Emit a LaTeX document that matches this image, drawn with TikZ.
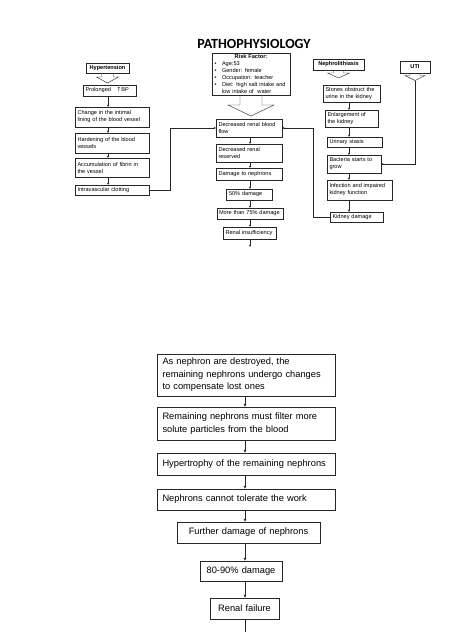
\documentclass[tikz,border=0pt]{standalone}
\usepackage{fontspec}
\setmainfont{Liberation Sans}
\newfontfamily\dvfont{DejaVu Sans}
\newfontfamily\titlefont{Carlito}
\usetikzlibrary{arrows.meta,calc}

% style, pad, name, x1, y1, x2, y2, text
\newcommand{\mkbox}[8]{%
  \pgfmathsetmacro{\mbcx}{(#4+#6)/2}%
  \pgfmathsetmacro{\mbcy}{(#5+#7)/2}%
  \pgfmathsetmacro{\mbw}{#6-#4}%
  \pgfmathsetmacro{\mbh}{#7-#5}%
  \pgfmathsetmacro{\mbtw}{#6-#4-2*#2}%
  \node[#1, inner xsep=#2pt, minimum width=\mbw pt, minimum height=\mbh pt, text width=\mbtw pt] (#3) at (\mbcx,\mbcy) {#8};%
}

\tikzset{
  sm/.style={draw=black!85, line width=0.45pt, fill=white, inner ysep=0.5pt, outer sep=0pt,
    font=\fontsize{5.6}{7}\selectfont, align=left},
  smc/.style={sm, align=center, font=\fontsize{5.6}{7}\selectfont\bfseries},
  bg/.style={draw=black!85, line width=0.7pt, fill=white, inner ysep=1pt, outer sep=0pt,
    font=\fontsize{9.3}{12.5}\selectfont, align=left},
  bgc/.style={bg, align=center},
  sarr/.style={draw=black!85, line width=0.45pt, -{Latex[length=2.2pt,width=2.2pt]}},
  barr/.style={draw=black!85, line width=0.7pt, -{Latex[length=3.2pt,width=3pt]}},
  bline/.style={draw=black!85, line width=0.7pt},
  chev/.style={draw=black!80, line width=0.45pt, line join=miter}
}

\begin{document}
\begin{tikzpicture}[x=1pt,y=-1pt]
\path[use as bounding box, fill=white] (0,0) rectangle (474,632);

\node[font=\titlefont\fontsize{14}{16}\selectfont\bfseries, anchor=base, inner sep=0pt] (title) at (254,48) {PATHOPHYSIOLOGY};

% left column
\mkbox{smc}{1}{hyp}{86}{63}{129}{73}{Hypertension}
\mkbox{sm}{2.5}{prol}{83}{85}{136}{96}{Prolonged\ \ \ {\dvfont\fontsize{5.6}{7}\selectfont ↑}BP}
\mkbox{sm}{2.5}{chg}{75}{107}{149}{127}{Change in the intimal\\lining of the blood vessel}
\mkbox{sm}{2.5}{hard}{75}{133}{149}{153}{Hardening of the blood\\vessels}
\mkbox{sm}{2.5}{acc}{75}{158}{149}{177}{Accumulation of fibrin in\\the vessel}
\mkbox{sm}{2.5}{clot}{75}{185}{149}{195}{Intravascular clotting}

% middle column
\mkbox{sm}{2.5}{risk}{212}{53}{290}{95}{{\centering\textbf{Risk Factor:}\par}
\makebox[7.5pt][l]{\textbullet}Age:53\\
\makebox[7.5pt][l]{\textbullet}Gender: female\\
\makebox[7.5pt][l]{\textbullet}Occupation: teacher\\
\makebox[7.5pt][l]{\textbullet}Diet: high salt intake and\\
\hspace*{7.5pt}low intake of~~water}
\mkbox{sm}{2.5}{drbf}{216}{119}{282}{137}{Decreased renal blood\\flow}
\mkbox{sm}{2.5}{drr}{216}{144}{282}{162}{Decreased renal\\reserved}
\mkbox{sm}{2.5}{dtn}{216}{168}{282}{180}{Damage to nephrons}
\mkbox{sm}{3}{p50}{226}{189}{272}{200}{50\% damage}
\mkbox{sm}{2}{p75}{217}{208}{283}{219}{More than 75\% damage}
\mkbox{sm}{2.5}{ri}{223}{227}{276}{239}{Renal insufficiency}

% right column
\mkbox{smc}{1}{neph}{313}{59}{364}{70}{Nephrolithiasis}
\mkbox{sm}{2.5}{sto}{323}{85}{380}{102}{Stones obstruct the\\urine in the kidney}
\mkbox{sm}{2.5}{enl}{325}{110}{378}{127}{Enlargement of\\the kidney}
\mkbox{sm}{2.5}{us}{327}{137}{382}{147}{Urinary stasis}
\mkbox{sm}{2.5}{bac}{327}{155}{381}{173}{Bacteria starts to\\grow}
\mkbox{sm}{2.5}{inf}{327}{180}{392}{200}{Infection and impaired\\kidney function}
\mkbox{sm}{2.5}{kd}{330}{212}{383}{222}{Kidney damage}
\mkbox{smc}{1}{uti}{400}{61}{430}{73}{UTI}

% chevrons
\draw[chev] ([xshift=-6pt]hyp.south) -- ++(0,4) -- ++(-5,0) -- ++(11,6) -- ++(11,-6) -- ++(-5,0) -- ++(0,-4);
\draw[chev] ([xshift=-11pt]risk.south) -- ++(0,10) -- ++(-12,0) -- ++(23,11) -- ++(23,-11) -- ++(-12,0) -- ++(0,-10);
\draw[chev] ([xshift=-5pt]neph.south) -- ++(0,3) -- ++(-6,0) -- ++(11,5) -- ++(11,-5) -- ++(-6,0) -- ++(0,-3);
\draw[chev] ([xshift=-5pt]uti.south) -- ++(0,2.5) -- ++(-5,0) -- ++(10,5) -- ++(10,-5) -- ++(-5,0) -- ++(0,-2.5);
\coordinate (utit) at ([yshift=-7.5pt]uti.south);

% column arrows
\coordinate (lx) at (108,0);
\draw[sarr] (prol.south -| lx) -- (chg.north -| lx);
\draw[sarr] (chg.south -| lx) -- (hard.north -| lx);
\draw[sarr] (hard.south -| lx) -- (acc.north -| lx);
\draw[sarr] (acc.south -| lx) -- (clot.north -| lx);

\coordinate (mx) at (250,0);
\coordinate (mend) at (250,247);
\draw[sarr] (drbf.south -| mx) -- (drr.north -| mx);
\draw[sarr] (drr.south -| mx) -- (dtn.north -| mx);
\draw[sarr] (dtn.south -| mx) -- (p50.north -| mx);
\draw[sarr] (p50.south -| mx) -- (p75.north -| mx);
\draw[sarr] (p75.south -| mx) -- (ri.north -| mx);
\draw[sarr] (ri.south -| mx) -- (mend);

\coordinate (rx) at (349,0);
\draw[sarr] (sto.south -| rx) -- (enl.north -| rx);
\draw[sarr] (enl.south -| rx) -- (us.north -| rx);
\draw[sarr] (us.south -| rx) -- (bac.north -| rx);
\draw[sarr] (bac.south -| rx) -- (inf.north -| rx);
\draw[sarr] (inf.south -| rx) -- (kd.north -| rx);

% cross connectors
\coordinate (lc) at (170,0);
\draw[sarr] (clot.east) -- (clot.east -| lc) -- (lc |- drbf.west) -- (drbf.west);
\coordinate (rc) at (313,0);
\draw[sarr] (kd.west) -- (kd.west -| rc) -- (rc |- drbf.east) -- (drbf.east);
\draw[sarr] (utit) -- (utit |- bac.east) -- (bac.east);

% bottom section
\mkbox{bg}{5.5}{b1}{157}{354}{335}{396}{As nephron are destroyed, the\\remaining nephrons undergo changes\\to compensate lost ones}
\mkbox{bg}{5.5}{b2}{157}{407}{335}{440}{Remaining nephrons must filter more\\solute particles from the blood}
\mkbox{bg}{5.5}{b3}{157}{453}{335}{475}{Hypertrophy of the remaining nephrons}
\mkbox{bg}{5.5}{b4}{157}{489}{335}{510}{Nephrons cannot tolerate the work}
\mkbox{bgc}{3}{b5}{177}{522}{320}{543}{Further damage of nephrons}
\mkbox{bgc}{3}{b6}{200}{561}{282}{581}{80-90\% damage}
\mkbox{bgc}{3}{b7}{210}{598}{279}{619}{Renal failure}

\coordinate (bx) at (245,0);
\coordinate (bend) at (245,633);
\draw[barr] (b1.south -| bx) -- (b2.north -| bx);
\draw[barr] (b2.south -| bx) -- (b3.north -| bx);
\draw[barr] (b3.south -| bx) -- (b4.north -| bx);
\draw[barr] (b4.south -| bx) -- (b5.north -| bx);
\draw[barr] (b5.south -| bx) -- (b6.north -| bx);
\draw[barr] (b6.south -| bx) -- (b7.north -| bx);
\draw[bline] (b7.south -| bx) -- (bend);
\end{tikzpicture}
\end{document}
